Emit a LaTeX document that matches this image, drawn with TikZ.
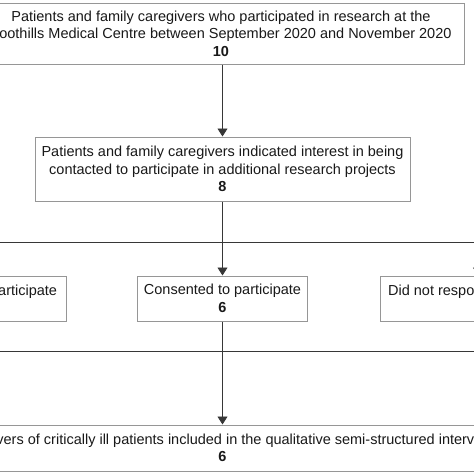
\documentclass[tikz,border=0pt]{standalone}
\usepackage{fontspec}
\setmainfont{Liberation Sans}
\usepackage{tikz}
\usetikzlibrary{arrows.meta}
\definecolor{boxgray}{RGB}{150,150,150}
\definecolor{linegray}{RGB}{55,55,55}

\tikzset{
  flowbox/.style={draw=boxgray, line width=1pt, fill=white, align=center, inner xsep=0pt, inner ysep=0pt,
    font=\fontsize{14.5}{17.5}\selectfont, text=black!90},
  flowline/.style={draw=linegray, line width=0.9pt},
  flowarrow/.style={flowline, -{Triangle[width=10pt,length=8pt]}}
}

\begin{document}
\begin{tikzpicture}[x=1pt,y=-1pt]
    \useasboundingbox (0,0) rectangle (474,474);
    \clip (0,0) rectangle (474,474);

    \node[flowbox, minimum width=486pt, minimum height=61pt] (research) at (221,33.5)
      {Patients and family caregivers who participated in research at the\\
       Foothills Medical Centre between September 2020 and November 2020\\ \textbf{10}};
    \node[flowbox, minimum width=375pt, minimum height=64pt] (interest) at (222.5,169)
      {Patients and family caregivers indicated interest in being\\
       contacted to participate in additional research projects\\ \textbf{8}};

    \node[flowbox, minimum width=192pt, minimum height=45pt] (declined) at (-30,298.5)
      {Did not agree to participate\\ \textbf{1}};
    \node[flowbox, minimum width=170pt, minimum height=45pt] (consented) at (222.5,298.5)
      {Consented to participate\\ \textbf{6}};
    \node[flowbox, minimum width=196pt, minimum height=45pt] (noreply) at (478,298.5)
      {Did not respond to invitation\\ \textbf{1}};

    \node[flowbox, minimum width=640pt, minimum height=46pt] (included) at (222.5,448)
      {Family caregivers of critically ill patients included in the qualitative semi-structured interview study\\ \textbf{6}};

    \coordinate (split) at (222.5,242);
    \coordinate (merge) at (222.5,351);

    \draw[flowarrow] (research.south -| interest.north) -- (interest.north);
    \draw[flowline] (interest.south) -- (split);
    \draw[flowline] (declined.north |- split) -- (noreply.north |- split);
    \draw[flowarrow] (declined.north |- split) -- (declined.north);
    \draw[flowarrow] (split) -- (consented.north);
    \draw[flowarrow] (noreply.north |- split) -- (noreply.north);

    \draw[flowline] (declined.south) -- (declined.south |- merge) -- (noreply.south |- merge) -- (noreply.south);
    \draw[flowline] (consented.south) -- (merge);
    \draw[flowarrow] (merge) -- (included.north);
\end{tikzpicture}
\end{document}
